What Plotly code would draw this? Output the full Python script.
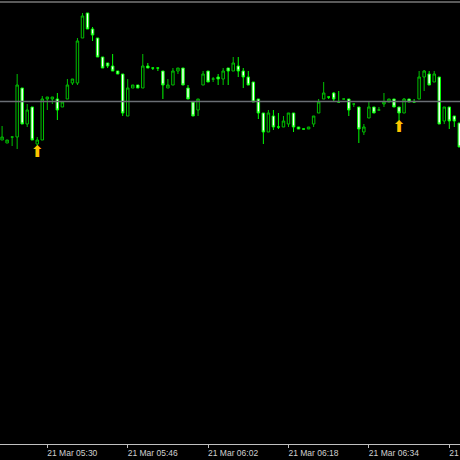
import pandas as pd
import plotly.graph_objects as go

# 1-minute bars, 21 Mar, 05:21 .. 06:52
first_bar = "2024-03-21 05:21"

opens = [1.08860, 1.08857, 1.08863, 1.08863, 1.08912, 1.08876, 1.08893, 1.08856, 1.08860, 1.08901,
         1.08901, 1.08901, 1.08893, 1.08901, 1.08917, 1.08917, 1.08962, 1.08987, 1.08971, 1.08962,
         1.08943, 1.08937, 1.08934, 1.08929, 1.08926, 1.08884, 1.08912, 1.08915, 1.08912, 1.08934,
         1.08932, 1.08932, 1.08929, 1.08912, 1.08915, 1.08929, 1.08932, 1.08912, 1.08898, 1.08890,
         1.08915, 1.08929, 1.08921, 1.08923, 1.08921, 1.08932, 1.08929, 1.08934, 1.08929, 1.08923,
         1.08918, 1.08901, 1.08887, 1.08868, 1.08884, 1.08873, 1.08873, 1.08876, 1.08887, 1.08873,
         1.08871, 1.08871, 1.08876, 1.08887, 1.08901, 1.08903, 1.08907, 1.08898, 1.08901, 1.08901,
         1.08896, 1.08893, 1.08868, 1.08882, 1.08893, 1.08890, 1.08896, 1.08898, 1.08901, 1.08893,
         1.08887, 1.08901, 1.08898, 1.08901, 1.08923, 1.08926, 1.08918, 1.08923, 1.08879, 1.08893,
         1.08884, 1.08877]
highs = [1.08874, 1.08860, 1.08863, 1.08926, 1.08912, 1.08896, 1.08893, 1.08863, 1.08904, 1.08903,
         1.08903, 1.08907, 1.08898, 1.08921, 1.08921, 1.08962, 1.08987, 1.08987, 1.08973, 1.08962,
         1.08943, 1.08937, 1.08946, 1.08929, 1.08926, 1.08921, 1.08915, 1.08915, 1.08946, 1.08937,
         1.08932, 1.08932, 1.08929, 1.08921, 1.08932, 1.08932, 1.08932, 1.08915, 1.08898, 1.08901,
         1.08929, 1.08929, 1.08923, 1.08926, 1.08932, 1.08932, 1.08943, 1.08943, 1.08932, 1.08929,
         1.08918, 1.08901, 1.08887, 1.08890, 1.08890, 1.08887, 1.08884, 1.08887, 1.08887, 1.08873,
         1.08871, 1.08873, 1.08884, 1.08901, 1.08918, 1.08903, 1.08908, 1.08909, 1.08901, 1.08901,
         1.08896, 1.08893, 1.08876, 1.08898, 1.08893, 1.08893, 1.08907, 1.08901, 1.08901, 1.08893,
         1.08902, 1.08901, 1.08901, 1.08929, 1.08930, 1.08929, 1.08929, 1.08923, 1.08893, 1.08893,
         1.08884, 1.08877]
lows = [1.08860, 1.08857, 1.08854, 1.08851, 1.08876, 1.08873, 1.08860, 1.08853, 1.08860, 1.08890,
        1.08896, 1.08880, 1.08893, 1.08901, 1.08915, 1.08915, 1.08962, 1.08971, 1.08959, 1.08943,
        1.08932, 1.08932, 1.08929, 1.08926, 1.08884, 1.08884, 1.08912, 1.08912, 1.08912, 1.08932,
        1.08930, 1.08929, 1.08901, 1.08912, 1.08915, 1.08926, 1.08915, 1.08901, 1.08884, 1.08884,
        1.08915, 1.08918, 1.08918, 1.08915, 1.08915, 1.08915, 1.08929, 1.08923, 1.08912, 1.08915,
        1.08898, 1.08881, 1.08856, 1.08868, 1.08870, 1.08871, 1.08873, 1.08873, 1.08868, 1.08871,
        1.08871, 1.08871, 1.08873, 1.08887, 1.08901, 1.08901, 1.08898, 1.08898, 1.08901, 1.08884,
        1.08893, 1.08857, 1.08865, 1.08882, 1.08887, 1.08890, 1.08893, 1.08898, 1.08893, 1.08879,
        1.08887, 1.08898, 1.08898, 1.08901, 1.08909, 1.08915, 1.08918, 1.08876, 1.08876, 1.08871,
        1.08873, 1.08853]
closes = [1.08863, 1.08860, 1.08863, 1.08915, 1.08876, 1.08890, 1.08860, 1.08860, 1.08901, 1.08903,
          1.08903, 1.08890, 1.08898, 1.08915, 1.08921, 1.08959, 1.08984, 1.08971, 1.08965, 1.08943,
          1.08932, 1.08934, 1.08929, 1.08926, 1.08887, 1.08912, 1.08915, 1.08912, 1.08934, 1.08932,
          1.08932, 1.08932, 1.08915, 1.08915, 1.08929, 1.08932, 1.08915, 1.08901, 1.08884, 1.08901,
          1.08926, 1.08918, 1.08921, 1.08921, 1.08929, 1.08929, 1.08937, 1.08929, 1.08923, 1.08915,
          1.08898, 1.08887, 1.08868, 1.08887, 1.08873, 1.08873, 1.08879, 1.08887, 1.08873, 1.08871,
          1.08871, 1.08873, 1.08884, 1.08898, 1.08907, 1.08903, 1.08901, 1.08898, 1.08901, 1.08890,
          1.08896, 1.08871, 1.08873, 1.08893, 1.08887, 1.08890, 1.08898, 1.08901, 1.08893, 1.08887,
          1.08901, 1.08898, 1.08898, 1.08923, 1.08929, 1.08915, 1.08926, 1.08876, 1.08893, 1.08879,
          1.08879, 1.08853]

# buy arrows (Wingdings style up arrows under the bars)
arrow_times = ["2024-03-21 05:28", "2024-03-21 06:40"]
arrow_prices = [1.088475, 1.08872]

bid_price = 1.088985

tick_times = ["2024-03-21 05:30", "2024-03-21 05:46", "2024-03-21 06:02",
              "2024-03-21 06:18", "2024-03-21 06:34", "2024-03-21 06:50"]
tick_labels = ["21 Mar 05:30", "21 Mar 05:46", "21 Mar 06:02",
               "21 Mar 06:18", "21 Mar 06:34", "21 Mar 06:50"]

x_range = ["2024-03-21 05:20:35", "2024-03-21 06:52:08"]
y_range = [1.08556, 1.08998]

times = pd.date_range(first_bar, periods=len(opens), freq="min")

fig = go.Figure()
fig.add_trace(go.Candlestick(
    x=times, open=opens, high=highs, low=lows, close=closes,
    increasing=dict(line=dict(color="#00c000", width=1), fillcolor="#000000"),
    decreasing=dict(line=dict(color="#00ff00", width=1), fillcolor="#ffffff"),
    whiskerwidth=0,
    hoverinfo="skip",
))
fig.add_trace(go.Scatter(
    x=arrow_times, y=arrow_prices, mode="text", text=["⬆", "⬆"],
    textfont=dict(family="DejaVu Sans", size=16, color="#ffc400"),
    hoverinfo="skip",
))

fig.add_hline(y=bid_price, line=dict(color="#6a6e74", width=1.5))
# window frame line at the top
fig.add_shape(type="line", xref="paper", yref="paper", x0=0, x1=1, y0=1, y1=1,
              line=dict(color="#5a5a5a", width=2))

fig.update_layout(
    width=460, height=460,
    margin=dict(l=0, r=0, t=2, b=16, autoexpand=False),
    paper_bgcolor="#000000", plot_bgcolor="#000000",
    showlegend=False,
    xaxis=dict(
        type="date", range=x_range, rangeslider=dict(visible=False),
        tickvals=tick_times, ticktext=tick_labels,
        ticks="outside", ticklen=3, tickcolor="#c0c0c0", tickwidth=1,
        showline=True, linecolor="#c0c0c0", linewidth=1,
        showgrid=False, zeroline=False, automargin=False,
        tickfont=dict(family="Liberation Sans", size=8.5, color="#d0d0d0"),
        ticklabelshift=25, ticklabelstandoff=-2, ticklabeloverflow="allow",
    ),
    yaxis=dict(range=y_range, visible=False, showgrid=False, zeroline=False,
               automargin=False),
)

# page without the default body margin, so the 460x460 figure fills the window
fig.write_html("out.html", config={"displayModeBar": False},
               post_script="document.body.style.margin='0';document.body.style.overflow='hidden';")
